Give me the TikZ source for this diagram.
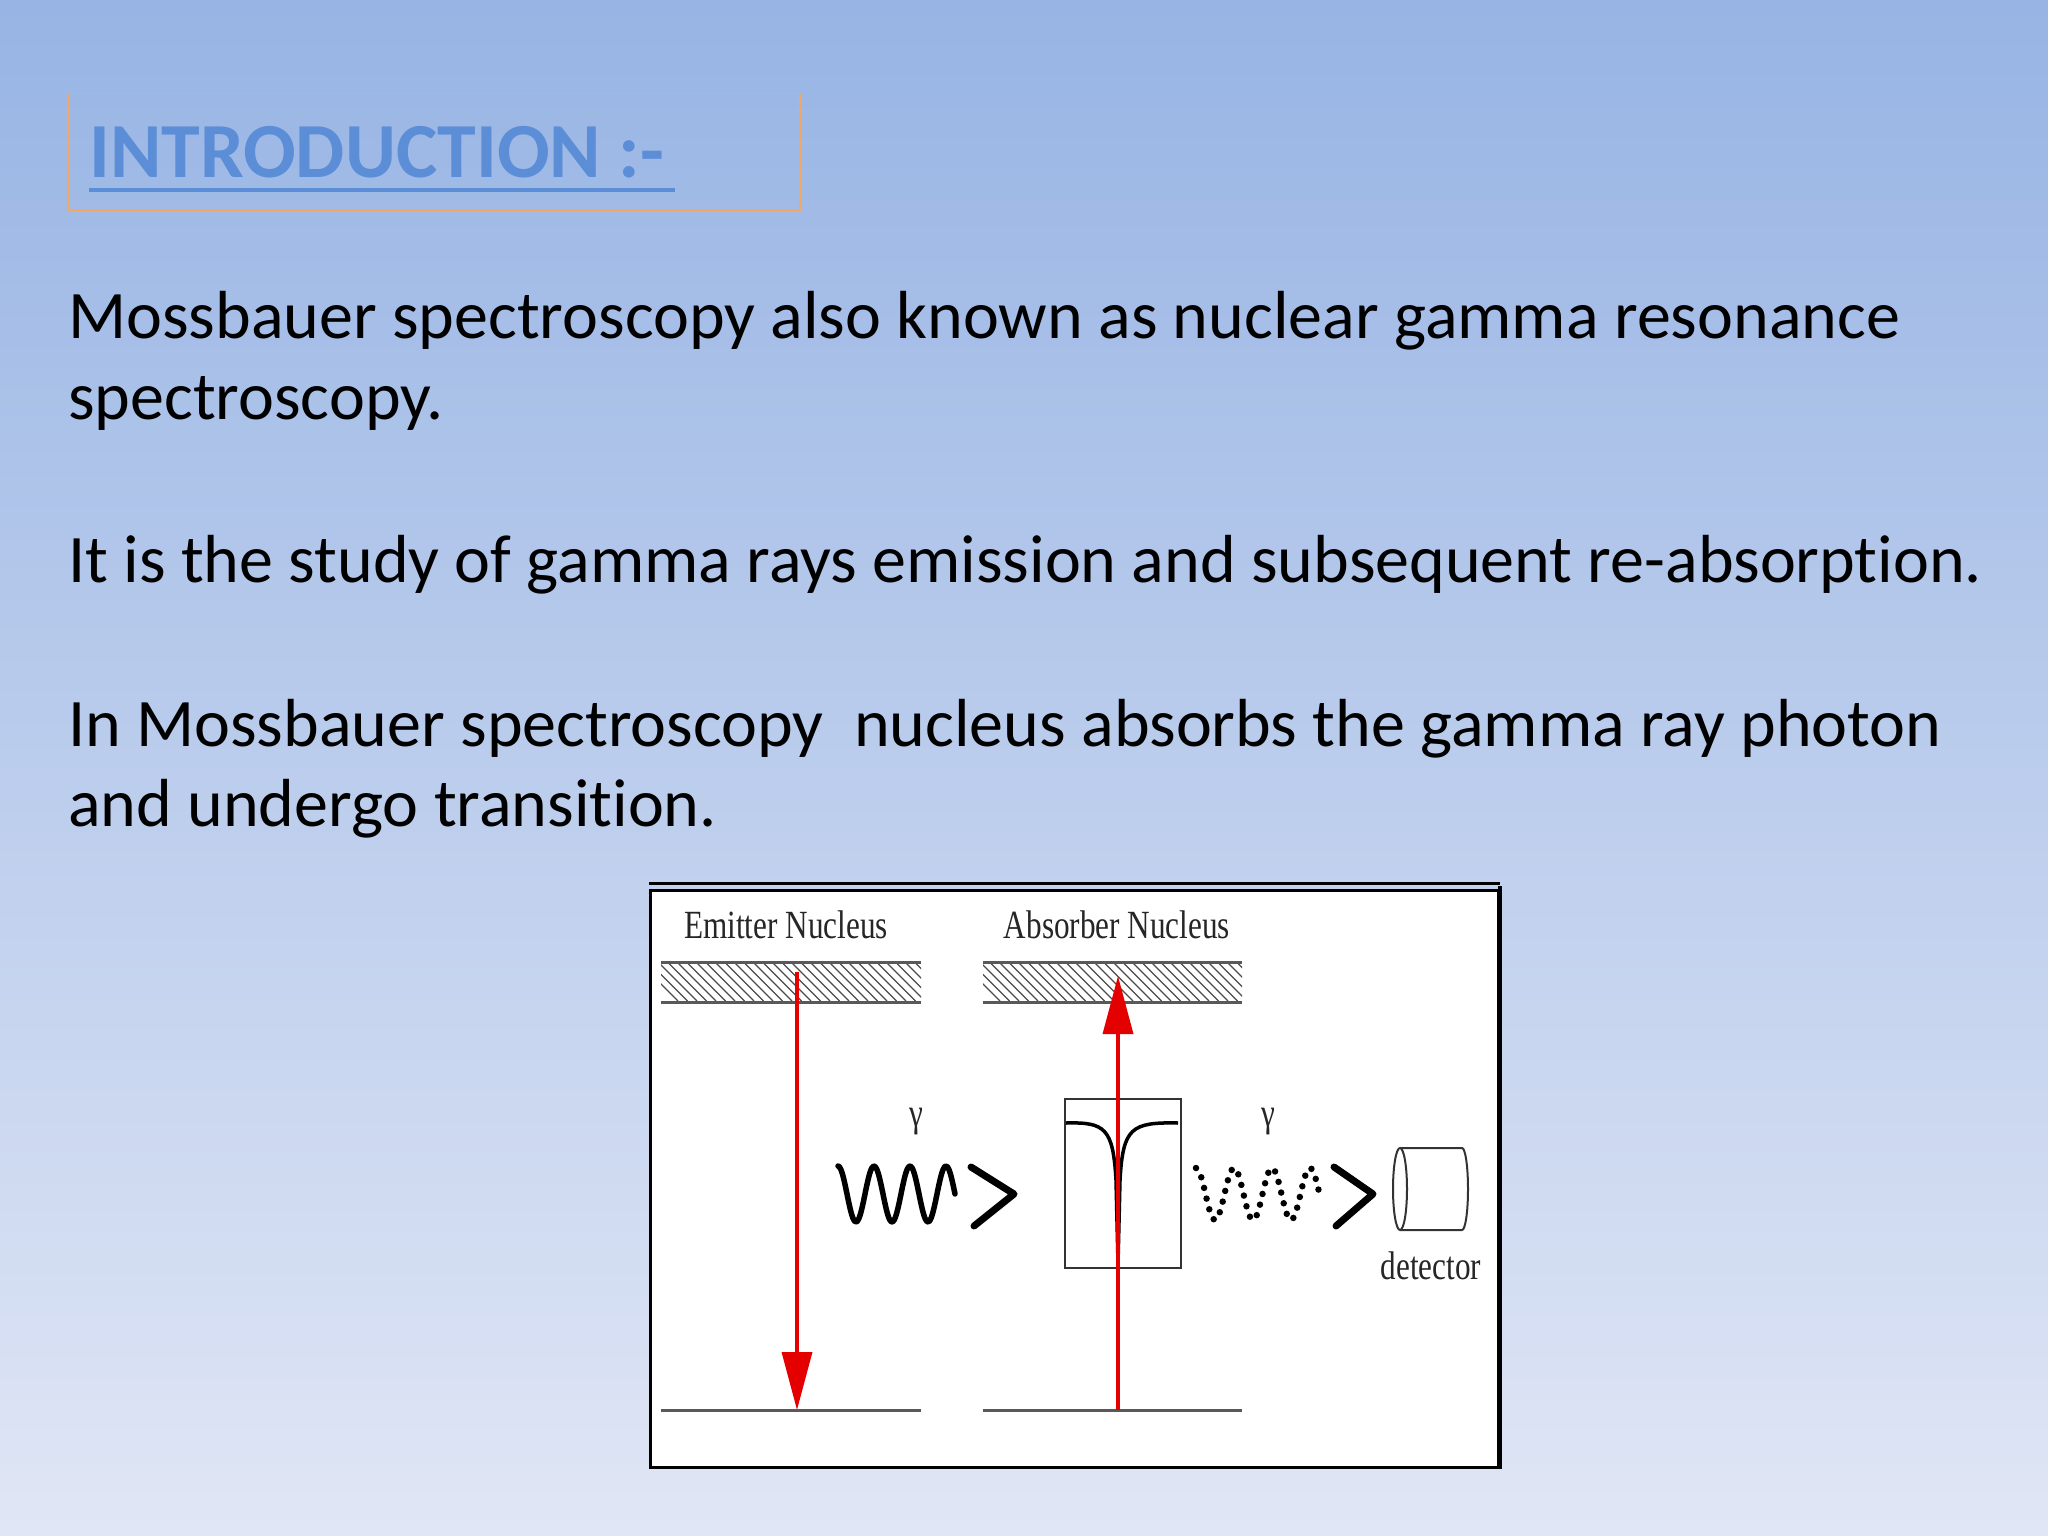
\documentclass[tikz,border=0pt]{standalone}
\usepackage{fontspec}
\setmainfont{Carlito}[Ligatures=NoCommon]
\newfontfamily\timesf{Liberation Serif}
\usetikzlibrary{arrows.meta}
\definecolor{bgtop}{HTML}{97B4E4}
\definecolor{bgbot}{HTML}{E0E6F5}
\definecolor{titleblue}{HTML}{5B8ED6}
\definecolor{boxorange}{HTML}{F0A868}
\tikzset{
 body/.style={anchor=base west,inner sep=0,font=\fontsize{68}{80}\selectfont},
 lbl/.style={inner sep=0,font=\timesf\fontsize{40}{40}\selectfont,xscale=0.78,text=black!85},
 level/.style={line width=3pt,black!65},
 redarr/.style={line width=3.5pt,red!90!black,-{Triangle[length=58pt,width=30pt]}},
 wave/.style={line width=5.5pt,line cap=round,line join=round},
}
\begin{document}
\begin{tikzpicture}[x=1pt,y=-1pt]
\shade[top color=bgtop,bottom color=bgbot] (0,0) rectangle (2048,1536);
\useasboundingbox (0,0) rectangle (2048,1536);
% title
\node[draw=boxorange,line width=1.5pt,minimum width=732pt,minimum height=116pt,anchor=north west] (tbox) at (67,93) {};
\node[anchor=base west,inner sep=0,text=titleblue,font=\bfseries\fontsize{78}{78}\selectfont] (title) at (89,177) {INTRODUCTION :-};
\draw[titleblue,line width=4pt] (89,190) -- (675,190);
% body
\node[body] (l1) at (68,338) {Mossbauer spectroscopy also known as nuclear gamma resonance};
\node[body] (l2) at (68,419) {spectroscopy.};
\node[body] (l3) at (68,582) {It is the study of gamma rays emission and subsequent re-absorption.};
\node[body] (l4) at (68,746) {In Mossbauer spectroscopy\ \ nucleus absorbs the gamma ray photon};
\node[body] (l5) at (68,826) {and undergo transition.};
% diagram frame
\node[fill=white,draw=black,line width=3pt,minimum width=848pt,minimum height=577pt,anchor=north west] (frame) at (649,889) {};
\draw[line width=4pt] (1500,886) -- (1500,1469);
\draw[line width=3pt] (649,883) -- (1500,883);
% labels
\node[lbl] (em) at (786,925) {Emitter Nucleus};
\node[lbl] (ab) at (1117,925) {Absorber Nucleus};
% hatched bars
\begin{scope}
\clip (661,963) rectangle (921,1001);
\foreach \i in {0,...,30} \draw[line width=1.3pt,black!70] ({640+\i*9.5},963) -- ({678+\i*9.5},1001);
\end{scope}
\draw[level] (661,962) -- (921,962) (661,1002) -- (921,1002);
\begin{scope}
\clip (983,963) rectangle (1242,1001);
\foreach \i in {0,...,30} \draw[line width=1.3pt,black!70] ({962+\i*9.5},963) -- ({1000+\i*9.5},1001);
\end{scope}
\draw[level] (983,962) -- (1242,962) (983,1002) -- (1242,1002);
% ground levels
\draw[level] (661,1410) -- (921,1410);
\draw[level] (983,1410) -- (1242,1410);
% red arrows
\coordinate (e1) at (797,972); \coordinate (e2) at (797,1410);
\coordinate (a1) at (1118,1410); \coordinate (a2) at (1118,976);
% absorber box
\node[draw=black!80,line width=1.5pt,minimum width=116pt,minimum height=169pt,anchor=north west] (sbox) at (1064,1098) {};
\draw[line width=3.5pt] (1066,1123) .. controls (1105,1122) and (1113,1128) .. (1116,1180) -- (1118,1264);
\draw[line width=3.5pt] (1178,1123) .. controls (1131,1122) and (1123,1128) .. (1120,1180) -- (1118,1264);
\draw[redarr] (e1) -- (e2);
\draw[redarr] (a1) -- (a2);
% gamma labels
\node[lbl] (g1) at (916,1122) {γ};
\node[lbl] (g2) at (1268,1122) {γ};
% wavy photon
\draw[wave,domain=0:3.25,samples=80,smooth] plot ({838+\x*36},{1194-28*cos(\x*360)});
\draw[wave,line width=7pt] (971,1167) -- (1014,1194) -- (974,1226);
% dotted photon
\draw[wave,dash pattern=on 0pt off 11pt,line width=6.5pt,domain=0:3.25,samples=80,smooth] plot ({1196+\x*38},{1194-26*cos(\x*360)});
\draw[wave,line width=7pt] (1334,1167) -- (1373,1194) -- (1336,1226);
% detector
\draw[line width=2pt,black!80] (1400,1148) -- (1462,1148) arc[start angle=-90,end angle=90,x radius=6,y radius=41] -- (1400,1230);
\draw[line width=2pt,black!80] (1400,1189) ellipse[x radius=7,y radius=41];
\node[lbl] (det) at (1431,1266) {detector};
\end{tikzpicture}
\end{document}
